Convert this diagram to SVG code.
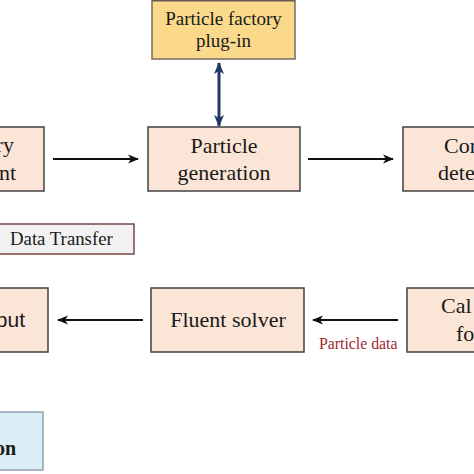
<svg xmlns="http://www.w3.org/2000/svg" width="474" height="474" viewBox="0 0 474 474">
<style>
.box{fill:#fbe5d6;stroke:#404040;stroke-width:1.5}
.t{font-family:"Liberation Serif","Times New Roman",serif;font-size:22px;fill:#1a1a1a}
.s{font-family:"Liberation Serif","Times New Roman",serif;font-size:19px;fill:#1a1a1a}
.c{stroke:#111;stroke-width:2;fill:none}
</style>
<defs>
<marker id="ah" markerWidth="11" markerHeight="11" refX="10" refY="5.5" orient="auto" markerUnits="userSpaceOnUse">
<path d="M0,1 L11,5.5 L0,10 L3,5.5 Z" fill="#111"/>
</marker>
<marker id="nv" markerWidth="12" markerHeight="12" refX="11" refY="6" orient="auto-start-reverse" markerUnits="userSpaceOnUse">
<path d="M0,1 L12,6 L0,11 L3,6 Z" fill="#1f3864"/>
</marker>
</defs>
<rect width="474" height="474" fill="#ffffff"/>
<g id="plugin">
<rect x="152" y="-1" width="143" height="60" fill="#fad98b" stroke="#7a6a60" stroke-width="1.5"/>
<line x1="152" y1="0.5" x2="295" y2="0.5" stroke="#6a5a55" stroke-width="2"/>
<text class="s" x="223.5" y="25" text-anchor="middle">Particle factory</text>
<text class="s" x="223.5" y="47" text-anchor="middle">plug-in</text>
</g>
<g id="left-top">
<rect class="box" x="-5" y="127" width="49" height="64"/>
<text class="t" x="14" y="152" text-anchor="end">ry</text>
<text class="t" x="16" y="180" text-anchor="end">nt</text>
</g>
<g id="generation">
<rect class="box" x="148" y="127" width="152" height="64"/>
<text class="t" x="224" y="153" text-anchor="middle">Particle</text>
<text class="t" x="224" y="180" text-anchor="middle">generation</text>
</g>
<g id="right-top">
<rect class="box" x="403" y="127" width="80" height="64"/>
<text class="t" x="444" y="153">Cor</text>
<text class="t" x="438" y="180">dete</text>
</g>
<g id="legend-transfer">
<rect x="-5" y="224" width="139" height="30" fill="#f3f1f1" stroke="#7a4545" stroke-width="1.5"/>
<text class="t" style="font-size:18.8px" x="10" y="245">Data Transfer</text>
</g>
<g id="left-bottom">
<rect class="box" x="-5" y="288" width="53" height="64"/>
<text x="25" y="327" text-anchor="end" style="font-family:'Liberation Sans',Arial,sans-serif;font-size:21px;fill:#1a1a1a">put</text>
</g>
<g id="fluent">
<rect class="box" x="151" y="288" width="153" height="64"/>
<text class="t" x="228" y="327" text-anchor="middle">Fluent solver</text>
</g>
<g id="right-bottom">
<rect class="box" x="407" y="288" width="80" height="64"/>
<text class="t" x="441" y="313">Cal</text>
<text class="t" x="456" y="341">fo</text>
</g>
<g id="legend-blue">
<rect x="-5" y="412" width="48" height="58" fill="#dbeef5" stroke="#8fa3b3" stroke-width="1.5"/>
<text x="16" y="455" text-anchor="end" style="font-family:'Liberation Serif','Times New Roman',serif;font-size:20px;font-weight:bold;fill:#1a1a1a">on</text>
</g>
<g id="connectors">
<line x1="219" y1="63" x2="219" y2="126" stroke="#1f3864" stroke-width="3" marker-start="url(#nv)" marker-end="url(#nv)"/>
<line class="c" x1="53" y1="159" x2="138" y2="159" marker-end="url(#ah)"/>
<line class="c" x1="308" y1="159" x2="393" y2="159" marker-end="url(#ah)"/>
<line class="c" x1="143" y1="320" x2="58" y2="320" marker-end="url(#ah)"/>
<line class="c" x1="398" y1="320" x2="313" y2="320" marker-end="url(#ah)"/>
<text x="319" y="349" style="font-family:'Liberation Serif','Times New Roman',serif;font-size:15.8px;fill:#9e2a32">Particle data</text>
</g>
</svg>
